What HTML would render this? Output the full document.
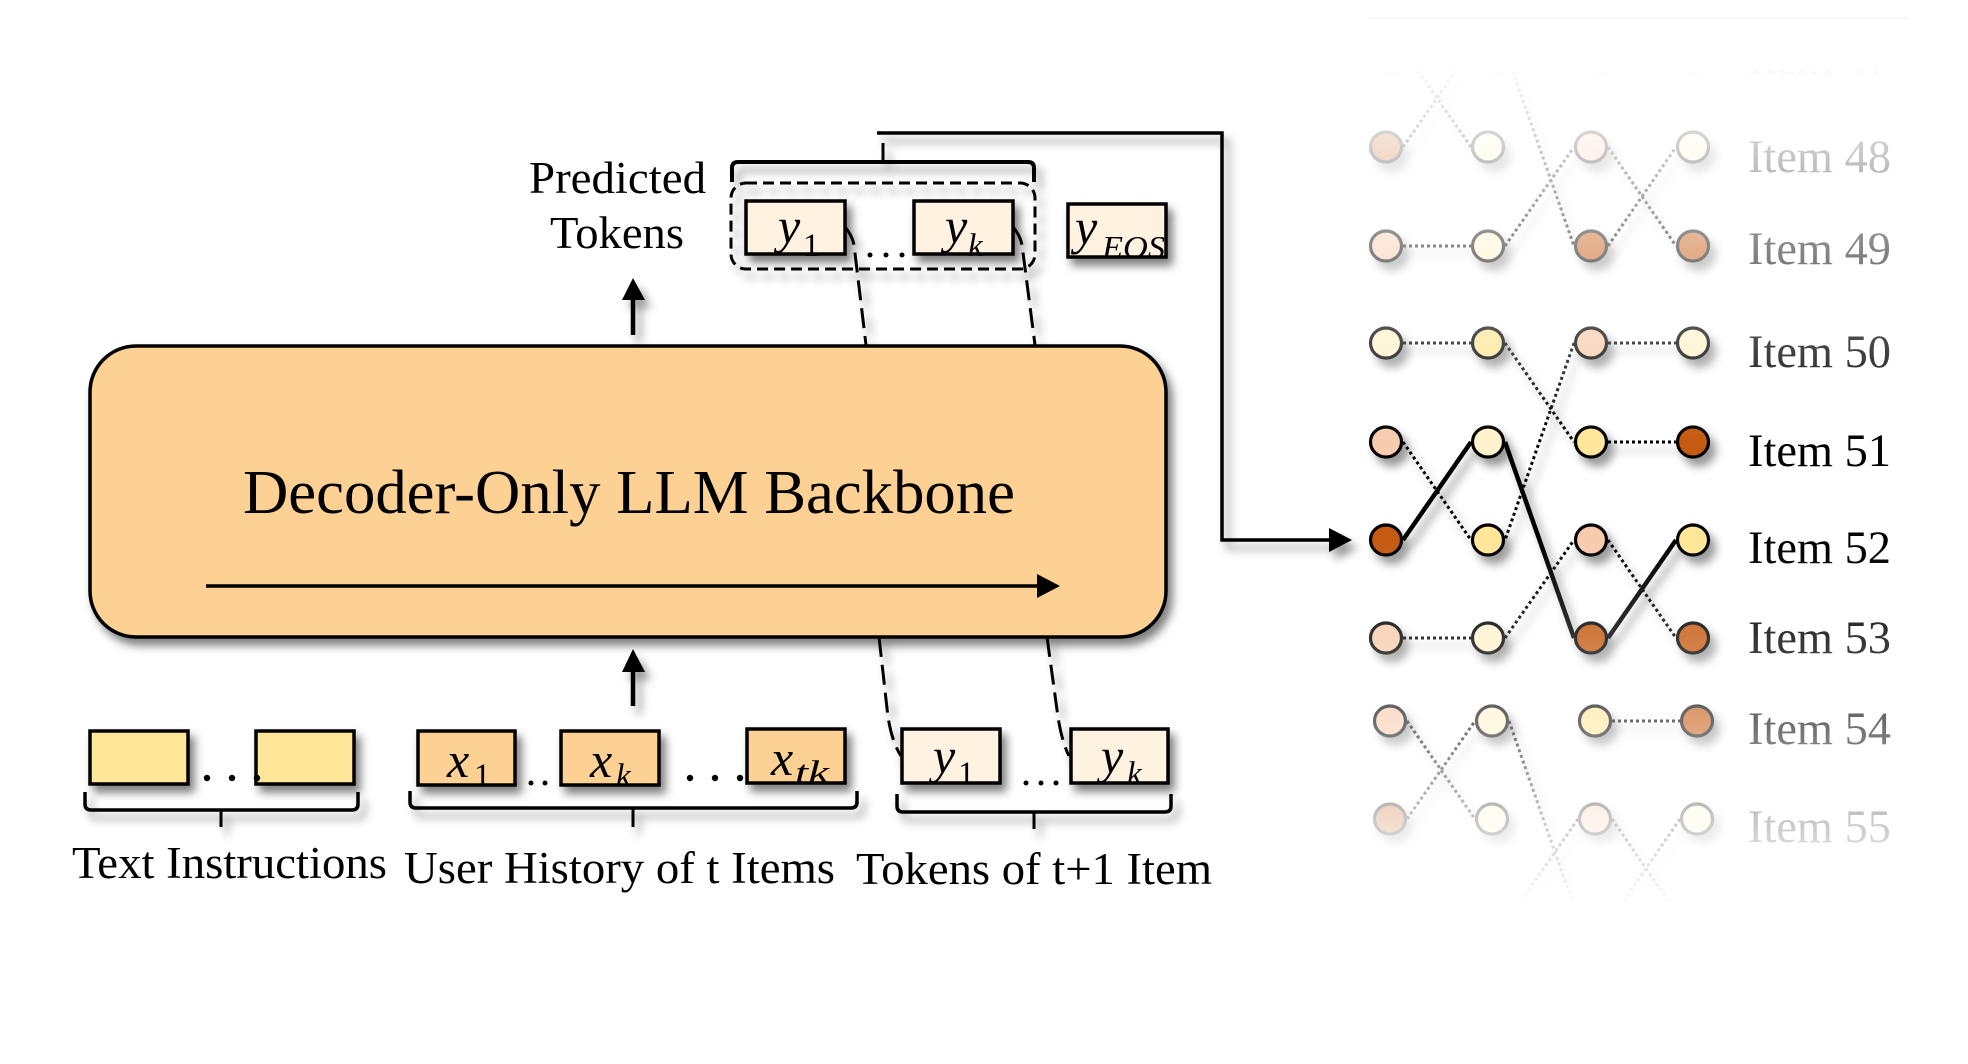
<!DOCTYPE html>
<html lang="en">
<head>
<meta charset="utf-8">
<title>Decoder-Only LLM Backbone diagram</title>
<style>
html,body{margin:0;padding:0;background:#fff;width:1968px;height:1064px;overflow:hidden}
svg{display:block}
text{font-family:"Liberation Serif",serif;fill:#000}
.m{font-style:italic}
.n{font-style:normal}
</style>
</head>
<body>
<svg width="1968" height="1064" viewBox="0 0 1968 1064" xmlns="http://www.w3.org/2000/svg">
<defs>
<filter id="s" x="-20%" y="-20%" width="140%" height="140%" filterUnits="objectBoundingBox" color-interpolation-filters="sRGB">
<feDropShadow dx="5" dy="7" stdDeviation="4.5" flood-color="#000" flood-opacity="0.5"/>
</filter>
<filter id="sl" x="0" y="0" width="1968" height="1064" filterUnits="userSpaceOnUse" color-interpolation-filters="sRGB">
<feDropShadow dx="6" dy="8" stdDeviation="4.5" flood-color="#000" flood-opacity="0.4"/>
</filter>
<linearGradient id="fade" gradientUnits="userSpaceOnUse" x1="0" y1="0" x2="0" y2="1064">
<stop offset="0.0648" stop-color="#fff" stop-opacity="0"/>
<stop offset="0.0658" stop-color="#fff" stop-opacity="0.02"/>
<stop offset="0.1382" stop-color="#fff" stop-opacity="0.2"/>
<stop offset="0.2312" stop-color="#fff" stop-opacity="0.47"/>
<stop offset="0.3224" stop-color="#fff" stop-opacity="0.72"/>
<stop offset="0.4154" stop-color="#fff" stop-opacity="1"/>
<stop offset="0.5075" stop-color="#fff" stop-opacity="1"/>
<stop offset="0.5996" stop-color="#fff" stop-opacity="0.8"/>
<stop offset="0.6776" stop-color="#fff" stop-opacity="0.58"/>
<stop offset="0.7697" stop-color="#fff" stop-opacity="0.22"/>
<stop offset="0.8459" stop-color="#fff" stop-opacity="0.02"/>
<stop offset="0.8500" stop-color="#fff" stop-opacity="0"/>
</linearGradient>
<mask id="m" maskUnits="userSpaceOnUse" x="1340" y="0" width="628" height="1064">
<rect x="1340" y="0" width="628" height="1064" fill="url(#fade)"/>
</mask>
</defs>

<!-- faint top rule -->
<line x1="1368" y1="18" x2="1908" y2="18" stroke="#f2f2f2" stroke-width="1.5"/>

<!-- connectors with shadow -->
<g filter="url(#sl)" fill="none" stroke="#000">
  <path d="M877 133H1222V540H1335" stroke-width="3.5"/>
  <path d="M633 335V295" stroke-width="4.5"/>
  <path d="M633 706V668" stroke-width="4.5"/>
  <path d="M732 182V168Q732 162 738 162H1028Q1034 162 1034 168V182" stroke-width="4"/>
  <path d="M883 143V162" stroke-width="3"/>
  <path d="M85 792V804Q85 810 91 810H352Q358 810 358 804V792" stroke-width="3.5"/>
  <path d="M221 810V827" stroke-width="3"/>
  <path d="M410 791V802Q410 808 416 808H851Q857 808 857 802V791" stroke-width="3.5"/>
  <path d="M633 808V827" stroke-width="3"/>
  <path d="M897 794V806Q897 812 903 812H1165Q1171 812 1171 806V794" stroke-width="3.5"/>
  <path d="M1034 812V829" stroke-width="3"/>
  <rect x="731" y="183" width="304" height="86" rx="15" stroke-width="3" stroke-dasharray="11 6"/>
  <path d="M845 227Q852 235 854 245L866 345" stroke-width="3" stroke-dasharray="20 8"/>
  <path d="M1013 227Q1020 235 1022 245L1035 345" stroke-width="3" stroke-dasharray="20 8"/>
  <path d="M879 637L888 717Q892 742 901 756" stroke-width="3" stroke-dasharray="20 8"/>
  <path d="M1047 637L1058 717Q1062 742 1069 756" stroke-width="3" stroke-dasharray="20 8"/>
  <polygon points="622,300 633,278 645,300" fill="#000" stroke="none"/>
  <polygon points="622,672 633,649 645,672" fill="#000" stroke="none"/>
  <polygon points="1329,528 1352,540 1329,552" fill="#000" stroke="none"/>
</g>

<!-- main block -->
<rect x="90" y="346" width="1076" height="291" rx="46" fill="#fdd093" stroke="#000" stroke-width="3.5" filter="url(#s)"/>
<text x="243" y="513" font-size="62" textLength="772" lengthAdjust="spacingAndGlyphs">Decoder-Only LLM Backbone</text>
<line x1="206" y1="586" x2="1040" y2="586" stroke="#000" stroke-width="3.5"/>
<polygon points="1037,574 1060,586 1037,598" fill="#000"/>

<!-- token boxes -->
<g stroke="#000" stroke-width="3.5" filter="url(#s)">
  <rect x="746" y="201" width="99" height="53" fill="#fff2e0"/>
  <rect x="914" y="201" width="99" height="53" fill="#fff2e0"/>
  <rect x="1068" y="204" width="98" height="53" fill="#fff2e0"/>
  <rect x="90" y="731" width="98" height="53" fill="#ffe699"/>
  <rect x="256" y="731" width="98" height="53" fill="#ffe699"/>
  <rect x="418" y="731" width="97" height="54" fill="#fdd093"/>
  <rect x="561" y="731" width="98" height="54" fill="#fdd093"/>
  <rect x="747" y="729" width="98" height="54" fill="#fdd093"/>
  <rect x="902" y="729" width="98" height="54" fill="#fff2e0"/>
  <rect x="1071" y="729" width="97" height="54" fill="#fff2e0"/>
</g>

<!-- dots -->
<g fill="#000">
  <circle cx="870" cy="255" r="2.5"/><circle cx="886" cy="255" r="2.5"/><circle cx="902" cy="255" r="2.5"/>
  <circle cx="207" cy="778" r="3.2"/><circle cx="232" cy="778" r="3.2"/><circle cx="257" cy="778" r="3.2"/>
  <circle cx="531" cy="783" r="2.5"/><circle cx="545" cy="783" r="2.5"/>
  <circle cx="690" cy="778" r="3.2"/><circle cx="715" cy="778" r="3.2"/><circle cx="740" cy="778" r="3.2"/>
  <circle cx="1026" cy="783" r="2.5"/><circle cx="1041" cy="783" r="2.5"/><circle cx="1056" cy="783" r="2.5"/>
</g>

<!-- math labels -->
<g>
  <text class="m" x="778" y="243" font-size="50">y</text><text class="n" x="803" y="256" font-size="33">1</text>
  <text class="m" x="945" y="243" font-size="50">y</text><text class="m" x="968" y="256" font-size="33">k</text>
  <text class="m" x="1075" y="244" font-size="50">y</text><text class="m" x="1102" y="258" font-size="32" textLength="63" lengthAdjust="spacingAndGlyphs">EOS</text>
  <text class="m" x="447" y="777" font-size="50">x</text><text class="n" x="474" y="786" font-size="33">1</text>
  <text class="m" x="590" y="777" font-size="50">x</text><text class="m" x="616" y="786" font-size="33">k</text>
  <text class="m" x="771" y="775" font-size="50">x</text><text class="m" x="795" y="783" font-size="33" textLength="34" lengthAdjust="spacingAndGlyphs">tk</text>
  <text class="m" x="933" y="773" font-size="50">y</text><text class="n" x="958" y="784" font-size="33">1</text>
  <text class="m" x="1101" y="773" font-size="50">y</text><text class="m" x="1127" y="784" font-size="33">k</text>
</g>

<!-- text labels -->
<text x="529" y="193" font-size="45" textLength="177" lengthAdjust="spacingAndGlyphs">Predicted</text>
<text x="550" y="248" font-size="45" textLength="134" lengthAdjust="spacingAndGlyphs">Tokens</text>
<text x="72" y="878" font-size="45" textLength="315" lengthAdjust="spacingAndGlyphs">Text Instructions</text>
<text x="404" y="883" font-size="45" textLength="431" lengthAdjust="spacingAndGlyphs">User History of t Items</text>
<text x="856" y="884" font-size="45" textLength="356" lengthAdjust="spacingAndGlyphs">Tokens of t+1 Item</text>

<!-- sequence lattice -->
<g mask="url(#m)">
  <g filter="url(#sl)" fill="none" stroke="#000">
    <g stroke-width="3" stroke-dasharray="3 3">
      <!-- 47-48 -->
      <line x1="1403" y1="147" x2="1471" y2="49"/>
      <line x1="1471" y1="147" x2="1403" y2="49"/>
      <line x1="1505" y1="49" x2="1574" y2="246"/>
      <!-- 48-49 -->
      <line x1="1403" y1="246" x2="1471" y2="246"/>
      <line x1="1505" y1="246" x2="1574" y2="147"/>
      <line x1="1608" y1="147" x2="1676" y2="246"/>
      <line x1="1608" y1="246" x2="1676" y2="147"/>
      <!-- 50-53 -->
      <line x1="1403" y1="343" x2="1471" y2="343"/>
      <line x1="1608" y1="343" x2="1676" y2="343"/>
      <line x1="1505" y1="343" x2="1574" y2="442"/>
      <line x1="1574" y1="343" x2="1505" y2="540"/>
      <line x1="1608" y1="442" x2="1676" y2="442"/>
      <line x1="1403" y1="442" x2="1471" y2="540"/>
      <line x1="1608" y1="540" x2="1676" y2="638"/>
      <line x1="1505" y1="638" x2="1574" y2="540"/>
      <line x1="1403" y1="638" x2="1471" y2="638"/>
      <!-- 54-56 -->
      <line x1="1612" y1="721" x2="1680" y2="721"/>
      <line x1="1407" y1="721" x2="1475" y2="819"/>
      <line x1="1407" y1="819" x2="1475" y2="721"/>
      <line x1="1509" y1="721" x2="1578" y2="918"/>
      <line x1="1578" y1="819" x2="1509" y2="918"/>
      <line x1="1612" y1="819" x2="1680" y2="918"/>
      <line x1="1680" y1="819" x2="1612" y2="918"/>
    </g>
    <polyline points="1403,540 1471,442" stroke-width="4.5"/>
    <polyline points="1505,442 1574,638" stroke-width="4.5"/>
    <polyline points="1608,638 1676,540" stroke-width="4.5"/>
  </g>
  <g stroke="#000" stroke-width="3.2" filter="url(#sl)">
    <g fill="#fff2cc">
      <ellipse cx="1386" cy="49" rx="15.5" ry="15" fill="#f8cbad"/><ellipse cx="1488" cy="49" rx="15.5" ry="15"/><ellipse cx="1591" cy="49" rx="15.5" ry="15"/><ellipse cx="1693" cy="49" rx="15.5" ry="15"/>
    </g>
    <ellipse cx="1386" cy="147" rx="15.5" ry="15" fill="#c55a11"/>
    <ellipse cx="1488" cy="147" rx="15.5" ry="15" fill="#fff2cc"/>
    <ellipse cx="1591" cy="147" rx="15.5" ry="15" fill="#f8cbad"/>
    <ellipse cx="1693" cy="147" rx="15.5" ry="15" fill="#fff2cc"/>

    <ellipse cx="1386" cy="246" rx="15.5" ry="15" fill="#f8cbad"/>
    <ellipse cx="1488" cy="246" rx="15.5" ry="15" fill="#fff2cc"/>
    <ellipse cx="1591" cy="246" rx="15.5" ry="15" fill="#c55a11"/>
    <ellipse cx="1693" cy="246" rx="15.5" ry="15" fill="#c55a11"/>

    <ellipse cx="1386" cy="343" rx="15.5" ry="15" fill="#fff2cc"/>
    <ellipse cx="1488" cy="343" rx="15.5" ry="15" fill="#ffe699"/>
    <ellipse cx="1591" cy="343" rx="15.5" ry="15" fill="#f8cbad"/>
    <ellipse cx="1693" cy="343" rx="15.5" ry="15" fill="#fff2cc"/>

    <ellipse cx="1386" cy="442" rx="15.5" ry="15" fill="#f8cbad"/>
    <ellipse cx="1488" cy="442" rx="15.5" ry="15" fill="#fff2cc"/>
    <ellipse cx="1591" cy="442" rx="15.5" ry="15" fill="#ffe699"/>
    <ellipse cx="1693" cy="442" rx="15.5" ry="15" fill="#c55a11"/>

    <ellipse cx="1386" cy="540" rx="15.5" ry="15" fill="#c55a11"/>
    <ellipse cx="1488" cy="540" rx="15.5" ry="15" fill="#ffe699"/>
    <ellipse cx="1591" cy="540" rx="15.5" ry="15" fill="#f8cbad"/>
    <ellipse cx="1693" cy="540" rx="15.5" ry="15" fill="#ffe699"/>

    <ellipse cx="1386" cy="638" rx="15.5" ry="15" fill="#f8cbad"/>
    <ellipse cx="1488" cy="638" rx="15.5" ry="15" fill="#fff2cc"/>
    <ellipse cx="1591" cy="638" rx="15.5" ry="15" fill="#c55a11"/>
    <ellipse cx="1693" cy="638" rx="15.5" ry="15" fill="#c55a11"/>

    <ellipse cx="1390" cy="721" rx="15.5" ry="15" fill="#f8cbad"/>
    <ellipse cx="1492" cy="721" rx="15.5" ry="15" fill="#fff2cc"/>
    <ellipse cx="1595" cy="721" rx="15.5" ry="15" fill="#ffe699"/>
    <ellipse cx="1697" cy="721" rx="15.5" ry="15" fill="#c55a11"/>

    <ellipse cx="1390" cy="819" rx="15.5" ry="15" fill="#c55a11"/>
    <ellipse cx="1492" cy="819" rx="15.5" ry="15" fill="#fff2cc"/>
    <ellipse cx="1595" cy="819" rx="15.5" ry="15" fill="#f8cbad"/>
    <ellipse cx="1697" cy="819" rx="15.5" ry="15" fill="#fff2cc"/>
  </g>
  <g font-size="46.5">
    <text x="1748" y="74" textLength="143" lengthAdjust="spacingAndGlyphs">Item 47</text>
    <text x="1748" y="172" textLength="143" lengthAdjust="spacingAndGlyphs">Item 48</text>
    <text x="1748" y="264" textLength="143" lengthAdjust="spacingAndGlyphs">Item 49</text>
    <text x="1748" y="367" textLength="143" lengthAdjust="spacingAndGlyphs">Item 50</text>
    <text x="1748" y="466" textLength="143" lengthAdjust="spacingAndGlyphs">Item 51</text>
    <text x="1748" y="563" textLength="143" lengthAdjust="spacingAndGlyphs">Item 52</text>
    <text x="1748" y="653" textLength="143" lengthAdjust="spacingAndGlyphs">Item 53</text>
    <text x="1748" y="744" textLength="143" lengthAdjust="spacingAndGlyphs">Item 54</text>
    <text x="1748" y="842" textLength="143" lengthAdjust="spacingAndGlyphs">Item 55</text>
  </g>
</g>
</svg>
</body>
</html>
